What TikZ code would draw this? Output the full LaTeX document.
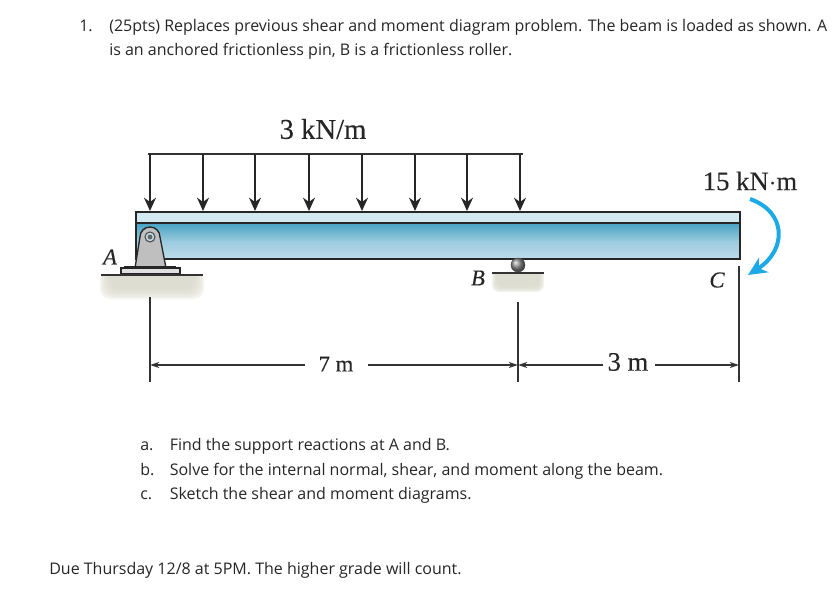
\documentclass[tikz,border=0pt]{standalone}
\usepackage{fontspec}
\setmainfont{Open Sans}
\newfontfamily\figfont[FakeBold=0.25]{Liberation Serif}
\usetikzlibrary{arrows.meta}
\definecolor{beamtop}{HTML}{D3E9F2}
\definecolor{beamdark}{HTML}{4BA4C4}
\definecolor{beamlight}{HTML}{BEDCEA}
\definecolor{groundshade}{HTML}{D9D9CB}
\definecolor{momentblue}{HTML}{1CA9E6}
\tikzstyle{body text}=[
    anchor = base west,
    inner sep = 0pt,
    text = black!85,
    font = \fontsize{12}{14}\selectfont
]
\tikzstyle{fig text}=[
    inner sep = 0pt,
    text = black!85,
    font = \figfont\fontsize{20}{22}\selectfont
]
\tikzstyle{point text}=[
    fig text,
    font = \figfont\itshape\fontsize{17}{20}\selectfont
]
\tikzstyle{dim line}=[
    draw = black!80,
    line width = 1pt
]
\tikzstyle{load arrow}=[
    draw = black!85,
    line width = 1pt,
    -{Stealth[length=10pt,width=9pt]}
]
\tikzstyle{dim arrow}=[
    dim line,
    -{Stealth[length=7pt,width=4.5pt]}
]

\begin{document}
\begin{tikzpicture}[x=0.75pt, y=-0.75pt]
    \useasboundingbox (0,0) rectangle (838,599);

    % question text
    \node[body text] (num) at (79,32) {1.};
    \node[body text] (q1) at (109,32) {(25pts) Replaces previous shear and moment diagram problem. The beam is loaded as shown. A};
    \node[body text] (q2) at (109,56) {is an anchored frictionless pin, B is a frictionless roller.};
    \node[body text] (la) at (140,450) {a.};
    \node[body text] (pa) at (169.5,450) {Find the support reactions at A and B.};
    \node[body text] (lb) at (140,475) {b.};
    \node[body text] (pb) at (169.5,475) {Solve for the internal normal, shear, and moment along the beam.};
    \node[body text] (lc) at (140,499) {c.};
    \node[body text] (pc) at (169.5,499) {Sketch the shear and moment diagrams.};
    \node[body text] (due) at (49,574.5) {Due Thursday 12/8 at 5PM. The higher grade will count.};

    % ground shading
    \foreach \k in {0,1,2,3,4,5} {
        \fill[groundshade, opacity=0.3] (100+\k*2,276) [rounded corners=8pt]
            -- (100+\k*2,299-\k*2) -- (204-\k*2,299-\k*2) [sharp corners] -- (204-\k*2,276) -- cycle;
        \fill[groundshade, opacity=0.3] (492+\k,274) [rounded corners=5pt]
            -- (492+\k,292-\k) -- (544-\k,292-\k) [sharp corners] -- (544-\k,274) -- cycle;
    }

    % beam
    \fill[beamtop] (136,212) rectangle (740,223);
    \shade[top color=beamdark, bottom color=beamlight, middle color=beamlight!70!beamdark] (136,224) rectangle (740,259);
    \draw[black!85, line width=1.2pt] (136,212) rectangle (740,259);
    \draw[black!85, line width=1.4pt] (136,223) -- (740,223);

    % pin at A
    \draw[black!85, line width=1pt, fill=black!25] (135,268) -- (140,237)
        arc[start angle=180, end angle=360, radius=10] -- (166,268) -- cycle;
    \draw[black!70, line width=0.8pt, fill=beamlight] (150,237) circle (5);
    \fill[black!60] (150,237) circle (2.5);
    \fill[black!85] (124,266) rectangle (176,268);
    \draw[black!85, line width=1pt, fill=black!12] (121,268) rectangle (180,274);

    % roller at B
    \shade[ball color=black!45, draw=black!70] (518,265) circle (7);

    \coordinate (gA1) at (101,275);
    \coordinate (gA2) at (203,275);
    \coordinate (gB1) at (492,273);
    \coordinate (gB2) at (544,273);
    \draw[dim line] (gA1) -- (gA2);
    \draw[dim line] (gB1) -- (gB2);

    % distributed load
    \coordinate (loadL) at (148,154);
    \coordinate (loadR) at (523,154);
    \draw[dim line] (loadL) -- (loadR);
    \foreach \i/\x in {1/150,2/203,3/255,4/309,5/362,6/415,7/467,8/520} {
        \coordinate (top\i) at (\x,154);
        \coordinate (bot\i) at (\x,211);
        \draw[load arrow] (top\i) -- (bot\i);
    }

    % moment
    \coordinate (m1) at (750,199);
    \coordinate (m2) at (748,275);
    \draw[draw=momentblue, line width=3pt, -{Stealth[length=14pt,width=13pt]}]
        (m1) .. controls (787,212) and (787,250) .. (m2);

    % labels
    \node[fig text, font=\figfont\fontsize{21.5}{24}\selectfont] (load) at (323,129) {3 kN/m};
    \node[fig text] (mom) at (750,181) {15 kN$\cdot$m};
    \node[point text] (A) at (110,257) {A};
    \node[point text] (B) at (478,278) {B};
    \node[point text] (C) at (717,280) {C};

    % dimensions
    \coordinate (e1a) at (150,297);
    \coordinate (e1b) at (150,382);
    \coordinate (e2a) at (518,302);
    \coordinate (e2b) at (518,382);
    \coordinate (e3a) at (739,266);
    \coordinate (e3b) at (739,382);
    \draw[dim line] (e1a) -- (e1b);
    \draw[dim line] (e2a) -- (e2b);
    \draw[dim line] (e3a) -- (e3b);
    \coordinate (d1) at (150,365);
    \coordinate (d2) at (518,365);
    \coordinate (d3) at (739,365);
    \coordinate (s1) at (305,365);
    \coordinate (s2) at (368,365);
    \coordinate (s3) at (603,365);
    \coordinate (s4) at (655,365);
    \node[fig text, font=\figfont\fontsize{17}{20}\selectfont] (seven) at (336,364) {7 m};
    \node[fig text] (three) at (628,362) {3 m};
    \draw[dim arrow] (s1) -- (d1);
    \draw[dim arrow] (s2) -- (d2);
    \draw[dim arrow] (s3) -- (d2);
    \draw[dim arrow] (s4) -- (d3);

\end{tikzpicture}
\end{document}
